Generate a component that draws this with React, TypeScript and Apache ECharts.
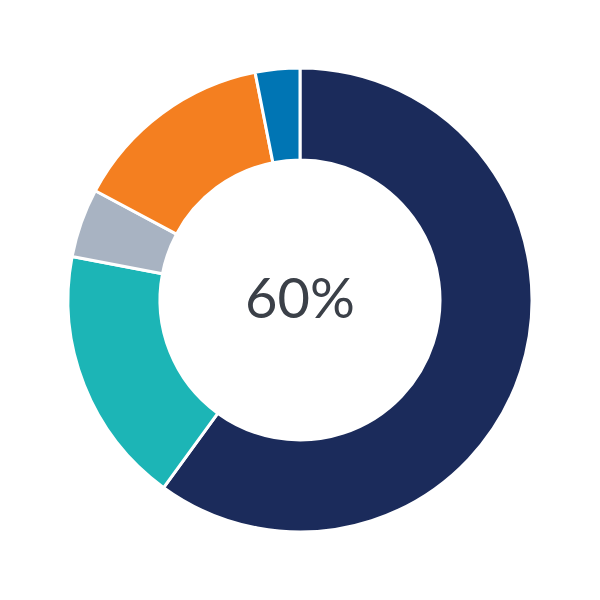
import React, { useEffect, useRef } from "react";
import * as echarts from "echarts";

const categories = ["A", "B", "C", "D", "E"];
const values = [60, 18, 4.8, 14.1, 3.1];
const colors = ["#1b2b5b", "#1cb5b6", "#a8b3c2", "#f47f20", "#0075b4"];
const centerLabel = "60%";

export default function App() {
  const ref = useRef<HTMLDivElement>(null);
  useEffect(() => {
    if (!ref.current) return;
    const chart = echarts.init(ref.current, undefined, { renderer: "svg" });
    chart.setOption({
      animation: false,
      backgroundColor: "#ffffff",
      graphic: [
        {
          type: "text",
          x: 300,
          y: 296,
          style: {
            text: centerLabel,
            align: "center",
            verticalAlign: "middle",
            fontFamily: "Lato",
            fontSize: 56,
            fontWeight: 400,
            fill: "#3b4048",
          },
        },
      ],
      series: [
        {
          type: "pie",
          center: [300, 300],
          radius: [140, 232],
          startAngle: 90,
          clockwise: true,
          label: { show: false },
          labelLine: { show: false },
          silent: true,
          itemStyle: { borderColor: "#ffffff", borderWidth: 3 },
          data: categories.map((name, i) => ({
            name,
            value: values[i],
            itemStyle: { color: colors[i] },
          })),
        },
      ],
    });
    return () => chart.dispose();
  }, []);
  return (
    <div
      ref={ref}
      style={{ position: "fixed", left: 0, top: 0, width: 600, height: 600 }}
    />
  );
}
